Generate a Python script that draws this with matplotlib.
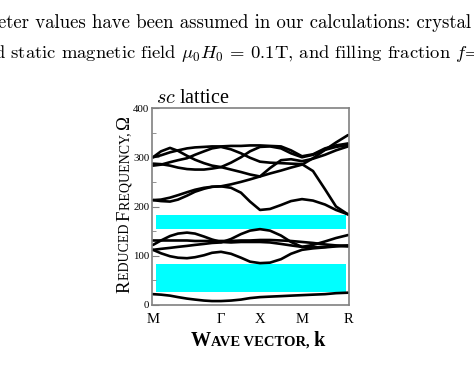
import matplotlib
matplotlib.use("Agg")
import matplotlib.pyplot as plt
from matplotlib.ticker import MultipleLocator

# high-symmetry points along the path (pixel-like k units)
sym_labels = ["M", "\u0393", "X", "M", "R"]
sym_pos = [0, 68, 107, 149, 195]

# k samples used for every band
k = [0, 8, 17, 25, 34, 42, 51, 59, 68, 78, 88, 97, 107, 117, 128, 138, 149, 160, 172, 183, 195]

# reduced frequency of each band, read at the k samples
band_0 = [22, 21, 19, 16, 13, 11, 9, 8, 8, 9, 11, 14, 16, 17, 18, 19, 20, 21, 22, 24, 25]
band_1 = [131, 131, 131, 131, 131, 130, 130, 130, 130, 130, 131, 131, 132, 132, 131, 130, 128, 126, 123, 121, 119]
band_2 = [122, 131, 140, 145, 147, 145, 139, 133, 128, 127, 128, 128, 128, 127, 124, 121, 118, 117, 118, 120, 121]
band_3 = [112, 114, 116, 118, 120, 122, 124, 126, 127, 134, 144, 151, 154, 151, 141, 128, 118, 122, 129, 136, 142]
band_4 = [112, 105, 99, 96, 95, 97, 101, 106, 108, 104, 96, 88, 85, 86, 93, 104, 112, 115, 117, 119, 120]
band_5 = [213, 211, 210, 214, 222, 230, 236, 240, 241, 238, 228, 210, 193, 195, 203, 211, 215, 212, 204, 193, 184]
band_6 = [213, 214, 218, 223, 229, 234, 238, 240, 241, 245, 250, 255, 261, 267, 273, 279, 285, 298, 315, 330, 345]
band_7 = [283, 285, 290, 294, 298, 305, 312, 318, 321, 316, 308, 299, 291, 289, 288, 287, 286, 272, 235, 200, 184]
band_8 = [287, 286, 283, 279, 276, 275, 275, 277, 280, 289, 300, 312, 321, 322, 318, 308, 300, 305, 315, 321, 325]
band_9 = [300, 312, 319, 313, 303, 295, 288, 283, 280, 275, 270, 265, 261, 278, 294, 296, 292, 297, 305, 314, 322]
band_10 = [300, 304, 310, 314, 318, 320, 321, 322, 322, 323, 323, 324, 324, 323, 322, 314, 302, 306, 318, 324, 328]
bands = [band_0, band_1, band_2, band_3, band_4, band_5,
         band_6, band_7, band_8, band_9, band_10]

# band gaps (bottom, top)
gaps = [(26, 84), (154, 183)]

W, H = 474, 379
fig = plt.figure(figsize=(W / 100, H / 100), dpi=100)


def px(x, y):
    return x / W, 1 - y / H


def small_caps(parts, x, y, rotation=0, **kw):
    """draw text in fake small caps: parts = [(text, size), ...]"""
    r = fig.canvas.get_renderer()
    widths = []
    for s, size in parts:
        t = fig.text(0, 0, s, fontsize=size, **kw)
        widths.append(t.get_window_extent(r).width)
        t.remove()
    pos = 0
    for (s, size), w in zip(parts, widths):
        if rotation == 90:
            xx, yy = x, y - pos
        else:
            xx, yy = x + pos, y
        fig.text(*px(xx, yy), s, fontsize=size, rotation=rotation,
                 rotation_mode="anchor", ha="left", va="baseline", **kw)
        pos += w


# text of the paper above the figure
plt.rcParams["mathtext.fontset"] = "cm"
fig.text(*px(-2, 28), "eter values have been assumed in our calculations: crystal",
         family="cmr10", fontsize=13.5, ha="left", va="baseline")
fig.text(*px(-6, 58), r"d static magnetic field $\mu_0H_0$ = 0.1T, and filling fraction $f$=0",
         family="cmr10", fontsize=13.4, ha="left", va="baseline")

ax = fig.add_axes([152 / W, 74 / H, 197 / W, 197 / H])
for lo, hi in gaps:
    ax.axhspan(lo, hi, xmin=0.02, xmax=0.985, color="#00FFFF", lw=0)
for b in bands:
    ax.plot(k, b, color="black", lw=1.9, solid_capstyle="round",
            solid_joinstyle="round")

ax.set_xlim(-1, 196)
ax.set_ylim(0, 400)
ax.set_xticks(sym_pos)
ax.set_xticklabels(sym_labels, family="Liberation Serif", fontsize=10.5)
ax.tick_params(axis="x", length=0, pad=6)
ax.yaxis.set_major_locator(MultipleLocator(100))
ax.yaxis.set_minor_locator(MultipleLocator(50))
ax.tick_params(axis="y", which="both", direction="in", color="#808080",
               labelsize=7.8, pad=2)
ax.tick_params(axis="y", which="major", length=5)
ax.tick_params(axis="y", which="minor", length=3)
for lab in ax.get_yticklabels():
    lab.set_family("Liberation Serif")
for sp in ax.spines.values():
    sp.set_color("#808080")
    sp.set_linewidth(1.2)

ax.set_title(r"$\it{sc}$ lattice", loc="left", family="Liberation Serif",
             fontsize=14.5, pad=2, x=0.02)

small_caps([("R", 13.5), ("EDUCED ", 10), ("F", 13.5), ("REQUENCY, ", 10), ("\u03a9", 13.5)],
           129, 293, rotation=90, family="Liberation Serif")
small_caps([("W", 14.5), ("AVE VECTOR, ", 10.5), ("k", 14.5)],
           191, 346, family="Liberation Serif", weight="bold")

fig.savefig("out.png", dpi=100)
